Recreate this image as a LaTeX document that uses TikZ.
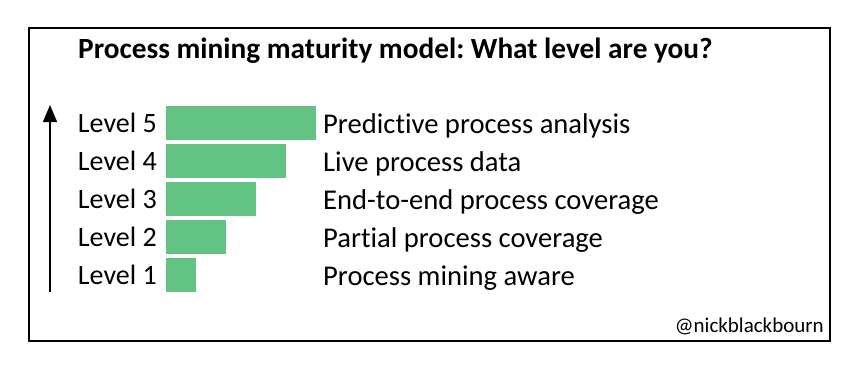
\documentclass[tikz,border=0pt]{standalone}
\usepackage{fontspec}
\setmainfont{Carlito}[Ligatures={NoCommon}]
\frenchspacing
\usetikzlibrary{arrows.meta,positioning}
\definecolor{barGreen}{RGB}{99,195,132}

\begin{document}
\begin{tikzpicture}[
  x=1pt, y=1pt,
  bar/.style={
    fill=barGreen,
    rectangle,
    inner sep=0pt,
    minimum height=34pt,
    anchor=west,
  },
  lvl/.style={
    inner sep=0pt,
    font=\fontsize{28}{34}\selectfont,
  },
  desc/.style={
    inner sep=0pt,
    anchor=base west,
    font=\fontsize{28.6}{34}\selectfont,
  },
  every path/.style={>={Triangle[length=17pt,width=14pt]}},
  ]
  \useasboundingbox (0,0) rectangle (850,-373);
  \draw[line width=2pt] (29,-28) rectangle (830,-341);

  \node[anchor=base west, inner sep=0pt,
    font=\fontsize{29.3}{34}\selectfont\bfseries] (title)
    at (78,-58) {Process mining maturity model: What level are you?};

  % bars, level 5 on top
  \node[bar, minimum width=150pt] (b5) at (166,-123) {};
  \node[bar, minimum width=120pt] (b4) at (166,-161) {};
  \node[bar, minimum width=90pt]  (b3) at (166,-199) {};
  \node[bar, minimum width=60pt]  (b2) at (166,-237) {};
  \node[bar, minimum width=30pt]  (b1) at (166,-275) {};

  \node[lvl, left=9pt of b5] (l5) {Level 5};
  \node[lvl, left=9pt of b4] (l4) {Level 4};
  \node[lvl, left=9pt of b3] (l3) {Level 3};
  \node[lvl, left=9pt of b2] (l2) {Level 2};
  \node[lvl, left=9pt of b1] (l1) {Level 1};

  \node[desc] (d5) at (323,-133) {Predictive process analysis};
  \node[desc] (d4) at (323,-171) {Live process data};
  \node[desc] (d3) at (323,-209) {End-to-end process coverage};
  \node[desc] (d2) at (323,-247) {Partial process coverage};
  \node[desc] (d1) at (323,-285) {Process mining aware};

  \coordinate (low) at (50,-292);
  \coordinate (high) at (50,-105);
  \draw[->, line width=1.5pt] (low) -- (high);

  \node[anchor=base east, inner sep=0pt,
    font=\fontsize{21}{25}\selectfont] (tag)
    at (824,-332) {@nickblackbourn};
\end{tikzpicture}
\end{document}
